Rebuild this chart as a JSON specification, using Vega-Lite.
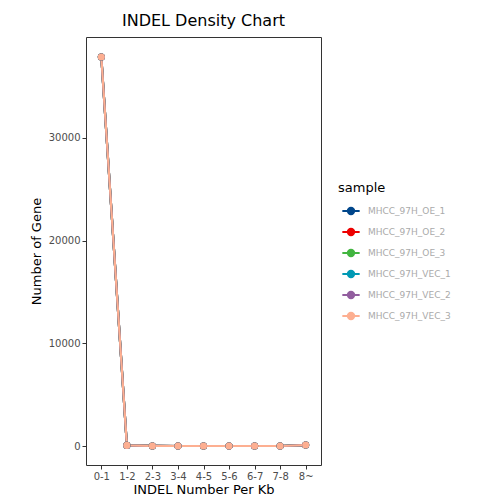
{
  "$schema": "https://vega.github.io/schema/vega-lite/v6.json",
  "autosize": "none",
  "width": 235,
  "height": 428,
  "padding": {"left": 86, "top": 37, "right": 179, "bottom": 35},
  "background": "white",
  "title": {
    "text": "INDEL Density Chart",
    "fontSize": 16,
    "font": "DejaVu Sans",
    "fontWeight": "normal",
    "color": "black",
    "anchor": "middle",
    "frame": "group",
    "offset": 8
  },
  "config": {
    "font": "DejaVu Sans",
    "view": {"stroke": "#333333", "strokeWidth": 1}
  },
  "data": {
    "values": [
      {"bin": "0-1", "sample": "MHCC_97H_OE_1", "n": 37880},
      {"bin": "1-2", "sample": "MHCC_97H_OE_1", "n": 60},
      {"bin": "2-3", "sample": "MHCC_97H_OE_1", "n": 5},
      {"bin": "3-4", "sample": "MHCC_97H_OE_1", "n": 1},
      {"bin": "4-5", "sample": "MHCC_97H_OE_1", "n": 0},
      {"bin": "5-6", "sample": "MHCC_97H_OE_1", "n": 0},
      {"bin": "6-7", "sample": "MHCC_97H_OE_1", "n": 0},
      {"bin": "7-8", "sample": "MHCC_97H_OE_1", "n": 0},
      {"bin": "8~", "sample": "MHCC_97H_OE_1", "n": 90},
      {"bin": "0-1", "sample": "MHCC_97H_OE_2", "n": 37880},
      {"bin": "1-2", "sample": "MHCC_97H_OE_2", "n": 60},
      {"bin": "2-3", "sample": "MHCC_97H_OE_2", "n": 5},
      {"bin": "3-4", "sample": "MHCC_97H_OE_2", "n": 1},
      {"bin": "4-5", "sample": "MHCC_97H_OE_2", "n": 0},
      {"bin": "5-6", "sample": "MHCC_97H_OE_2", "n": 0},
      {"bin": "6-7", "sample": "MHCC_97H_OE_2", "n": 0},
      {"bin": "7-8", "sample": "MHCC_97H_OE_2", "n": 0},
      {"bin": "8~", "sample": "MHCC_97H_OE_2", "n": 90},
      {"bin": "0-1", "sample": "MHCC_97H_OE_3", "n": 37880},
      {"bin": "1-2", "sample": "MHCC_97H_OE_3", "n": 60},
      {"bin": "2-3", "sample": "MHCC_97H_OE_3", "n": 5},
      {"bin": "3-4", "sample": "MHCC_97H_OE_3", "n": 1},
      {"bin": "4-5", "sample": "MHCC_97H_OE_3", "n": 0},
      {"bin": "5-6", "sample": "MHCC_97H_OE_3", "n": 0},
      {"bin": "6-7", "sample": "MHCC_97H_OE_3", "n": 0},
      {"bin": "7-8", "sample": "MHCC_97H_OE_3", "n": 0},
      {"bin": "8~", "sample": "MHCC_97H_OE_3", "n": 90},
      {"bin": "0-1", "sample": "MHCC_97H_VEC_1", "n": 37880},
      {"bin": "1-2", "sample": "MHCC_97H_VEC_1", "n": 60},
      {"bin": "2-3", "sample": "MHCC_97H_VEC_1", "n": 5},
      {"bin": "3-4", "sample": "MHCC_97H_VEC_1", "n": 1},
      {"bin": "4-5", "sample": "MHCC_97H_VEC_1", "n": 0},
      {"bin": "5-6", "sample": "MHCC_97H_VEC_1", "n": 0},
      {"bin": "6-7", "sample": "MHCC_97H_VEC_1", "n": 0},
      {"bin": "7-8", "sample": "MHCC_97H_VEC_1", "n": 0},
      {"bin": "8~", "sample": "MHCC_97H_VEC_1", "n": 90},
      {"bin": "0-1", "sample": "MHCC_97H_VEC_2", "n": 37880},
      {"bin": "1-2", "sample": "MHCC_97H_VEC_2", "n": 60},
      {"bin": "2-3", "sample": "MHCC_97H_VEC_2", "n": 5},
      {"bin": "3-4", "sample": "MHCC_97H_VEC_2", "n": 1},
      {"bin": "4-5", "sample": "MHCC_97H_VEC_2", "n": 0},
      {"bin": "5-6", "sample": "MHCC_97H_VEC_2", "n": 0},
      {"bin": "6-7", "sample": "MHCC_97H_VEC_2", "n": 0},
      {"bin": "7-8", "sample": "MHCC_97H_VEC_2", "n": 0},
      {"bin": "8~", "sample": "MHCC_97H_VEC_2", "n": 90},
      {"bin": "0-1", "sample": "MHCC_97H_VEC_3", "n": 37880},
      {"bin": "1-2", "sample": "MHCC_97H_VEC_3", "n": 60},
      {"bin": "2-3", "sample": "MHCC_97H_VEC_3", "n": 5},
      {"bin": "3-4", "sample": "MHCC_97H_VEC_3", "n": 1},
      {"bin": "4-5", "sample": "MHCC_97H_VEC_3", "n": 0},
      {"bin": "5-6", "sample": "MHCC_97H_VEC_3", "n": 0},
      {"bin": "6-7", "sample": "MHCC_97H_VEC_3", "n": 0},
      {"bin": "7-8", "sample": "MHCC_97H_VEC_3", "n": 0},
      {"bin": "8~", "sample": "MHCC_97H_VEC_3", "n": 90}
    ]
  },
  "mark": {
    "type": "line",
    "strokeWidth": 2.2,
    "point": {"filled": true, "size": 50, "opacity": 1, "strokeWidth": 0}
  },
  "encoding": {
    "x": {
      "field": "bin",
      "type": "ordinal",
      "sort": ["0-1", "1-2", "2-3", "3-4", "4-5", "5-6", "6-7", "7-8", "8~"],
      "scale": {"type": "point", "padding": 0.6},
      "axis": {
        "title": "INDEL Number Per Kb",
        "titleFontSize": 13,
        "titleFontWeight": "normal",
        "titleColor": "black",
        "titlePadding": 2,
        "labelAngle": 0,
        "labelFontSize": 10,
        "labelColor": "#4d4d4d",
        "labelPadding": 2,
        "tickSize": 4,
        "tickColor": "#333333",
        "domain": false,
        "grid": false
      }
    },
    "y": {
      "field": "n",
      "type": "quantitative",
      "scale": {"domain": [-1850, 39830], "nice": false, "zero": false},
      "axis": {
        "title": "Number of Gene",
        "values": [0, 10000, 20000, 30000],
        "format": "d",
        "titleFontSize": 13,
        "titleFontWeight": "normal",
        "titleColor": "black",
        "titlePadding": 5,
        "labelFontSize": 10,
        "labelColor": "#4d4d4d",
        "labelPadding": 2,
        "tickSize": 4,
        "tickColor": "#333333",
        "domain": false,
        "grid": false
      }
    },
    "color": {
      "field": "sample",
      "type": "nominal",
      "scale": {
        "domain": ["MHCC_97H_OE_1", "MHCC_97H_OE_2", "MHCC_97H_OE_3", "MHCC_97H_VEC_1", "MHCC_97H_VEC_2", "MHCC_97H_VEC_3"],
        "range": ["#00468B", "#ED0000", "#42B540", "#0099B4", "#925E9F", "#FDAF91"]
      },
      "legend": {
        "orient": "none",
        "legendX": 252,
        "legendY": 145,
        "title": "sample",
        "titleFontSize": 13,
        "titleFontWeight": "normal",
        "titleColor": "black",
        "titlePadding": 6,
        "labelFontSize": 9,
        "labelColor": "#aaaaaa",
        "labelOffset": 7,
        "symbolOffset": 3,
        "rowPadding": 4,
        "symbolType": "M-1,0L1,0M-0.38,0A0.38,0.38 0 1,1 0.38,0A0.38,0.38 0 1,1 -0.38,0Z",
        "symbolSize": 300,
        "symbolStrokeWidth": 1.8,
        "symbolOpacity": 1,
        "encode": {
          "symbols": {"update": {"fill": {"scale": "color", "field": "value"}}}
        }
      }
    }
  }
}
